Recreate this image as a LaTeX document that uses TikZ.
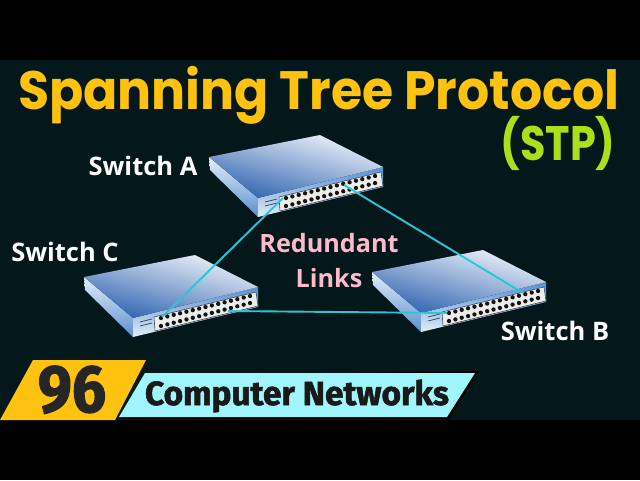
\documentclass[tikz,border=0pt]{standalone}
\usepackage{fontspec}
\setmainfont{Open Sans}
\newfontfamily\titlefont{Poppins}[UprightFont=* Bold]
\newfontfamily\bannerfont{Fira Sans}[UprightFont=* Bold,FakeBold=1.6]
\definecolor{bgdark}{HTML}{04171A}
\definecolor{gold}{HTML}{FFC20E}
\definecolor{lime}{HTML}{A9DF1B}
\definecolor{pinkish}{HTML}{FBBBCB}
\definecolor{linkcyan}{HTML}{27C8D6}
\definecolor{bannercyan}{HTML}{A0F6FA}
\definecolor{topdark}{HTML}{2F63B0}
\definecolor{topmid}{HTML}{6F9BDB}
\definecolor{toplight}{HTML}{F0F4FB}
\definecolor{sidelight}{HTML}{E2EEF8}
\definecolor{sidedark}{HTML}{5A90D0}
\definecolor{panelgray}{HTML}{ECECE8}
\definecolor{paneledge}{HTML}{3B4A66}
\tikzset{
  x=1pt,y=-1pt,
  swlabel/.style={text=white,font=\fontsize{25.5}{27}\selectfont\bfseries,inner sep=0pt,anchor=base},
  redlabel/.style={text=pinkish,font=\fontsize{25.2}{27}\selectfont\bfseries,inner sep=0pt,anchor=base},
  link/.style={draw=linkcyan,line width=1.9pt},
  switchbox/.pic={
    \shade[left color=sidelight,right color=sidedark,shading angle=0]
      (-49,-41)--(-48,-28)--(0,19)--(0,0)--cycle;
    \shade[top color=sidedark,bottom color=sidelight]
      (0,0)--(125,-31)--(125,-11)--(0,19)--cycle;
    \shade[top color=toplight,middle color=topmid,bottom color=topdark,shading angle=-15]
      (-49,-41)--(62,-63)--(125,-31)--(0,0)--cycle;
    \fill[panelgray,draw=paneledge,line width=.6pt] (21,-1)--(123,-26)--(125,-12)--(22,13)--cycle;
    \draw[paneledge,line width=.8pt] (7,4)--(19,1) (7,8)--(19,5);
    \foreach \i in {0,...,14}{
      \fill[black!92] ({28+\i*6.36},{-\i*1.57}) circle (2.15);
      \fill[black!92] ({28+\i*6.36},{8-\i*1.64}) circle (2.15);
    }
  }
}
\begin{document}
\begin{tikzpicture}
\useasboundingbox (0,0) rectangle (640,480);
\fill[black] (0,0) rectangle (640,480);
\fill[bgdark] (0,60) rectangle (640,420);
\node[text=gold,inner sep=0pt,anchor=base] (title) at (319,109)
  {\scalebox{1.01}[1.08]{\titlefont\fontsize{50}{52}\selectfont Spanning Tree Protocol}};
\node[text=lime,inner sep=0pt,anchor=base] (stp) at (558,160)
  {\scalebox{.94}[1.1]{\titlefont\fontsize{44}{46}\selectfont (STP)}};
\pic (swA) at (258,198) {switchbox};
\pic (swC) at (133,318) {switchbox};
\pic (swB) at (421,313) {switchbox};
\coordinate (a1) at (283,198);
\coordinate (a2) at (344,185);
\coordinate (c1) at (162,317);
\coordinate (c2) at (228,311);
\coordinate (b1) at (523,293);
\coordinate (b2) at (447,313);
\draw[link] (a1)--(c1);
\draw[link] (a2)--(b1);
\draw[link] (c2)--(b2);
\node[swlabel] (la) at (143,175) {Switch A};
\node[swlabel] (lc) at (65,261) {Switch C};
\node[swlabel] (lb) at (555,340) {Switch B};
\node[redlabel] (r1) at (329,252) {Redundant};
\node[redlabel] (r2) at (329,287) {Links};
\fill[gold] (33,360)--(146,360)--(115,420)--(0,420)--cycle;
\fill[black] (150,376)--(479,371)--(449,419)--(122,419)--cycle;
\fill[bannercyan] (145,373)--(475,373)--(447,417)--(119,417)--cycle;
\node[inner sep=0pt,anchor=base,text=black!85] (num) at (72,412)
  {\scalebox{.95}[1.05]{\bannerfont\fontsize{64}{66}\selectfont 96}};
\node[inner sep=0pt,anchor=base,text=black!90] (net) at (297,405)
  {\bannerfont\fontsize{33.5}{35}\selectfont Computer Networks};
\end{tikzpicture}
\end{document}
